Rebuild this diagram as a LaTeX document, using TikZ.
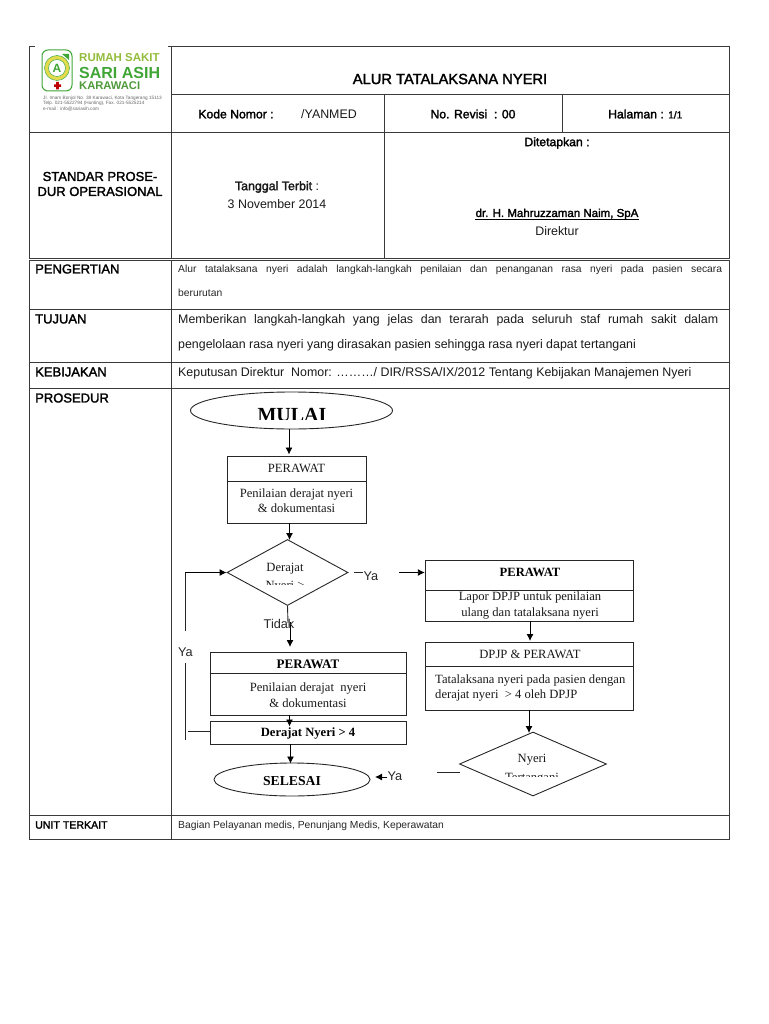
\documentclass[tikz,border=0pt]{standalone}
\usepackage{fontspec}
\setmainfont{Liberation Sans}
\newfontfamily\ser{Liberation Serif}
\newfontfamily\fb[FakeBold=2]{Liberation Sans}
\usetikzlibrary{shapes.geometric,arrows.meta}
\definecolor{lga}{HTML}{93BC3C}
\definecolor{lgb}{HTML}{3FA535}
\definecolor{lgc}{HTML}{4E9A3A}
\definecolor{lgy}{HTML}{E4DC4A}
\definecolor{ln}{HTML}{3A3A3A}
\tikzset{
 grid/.style={draw=ln,line width=0.85pt},
 hb/.style={font=\fb\fontsize{12.2}{14}\selectfont,inner sep=0pt,text=black},
 lab/.style={font=\fb\fontsize{13}{15}\selectfont,inner sep=0pt,text=black,anchor=west},
 body/.style={font=\fontsize{12.4}{14}\selectfont,inner sep=0pt,text=black!90},
 small/.style={font=\fontsize{10.3}{12}\selectfont,inner sep=0pt,anchor=west,text=black!85},
 fbox/.style={draw=black!85,line width=0.9pt,inner sep=0pt},
 st/.style={font=\ser\fontsize{12.6}{15.5}\selectfont,inner sep=0pt,align=center,text=black!90},
 stb/.style={font=\ser\bfseries\fontsize{12.6}{15}\selectfont,inner sep=0pt,align=center,text=black},
 conn/.style={draw=black,line width=0.9pt,-{Latex[length=7pt,width=7pt]}},
 plain/.style={draw=black!85,line width=0.9pt},
 ya/.style={font=\fontsize{12.7}{14}\selectfont,inner sep=0pt,text=black!85},
 addr/.style={font=\fontsize{4.7}{5}\selectfont,text=black!60,inner sep=0pt,anchor=west},
}
\begin{document}
\begin{tikzpicture}[x=1pt,y=-1pt]
\useasboundingbox (0,0) rectangle (768,1024);
% table
\draw[grid] (29,46) -- (29,258) (171,46) -- (171,258) (729.5,46) -- (729.5,258);
\draw[grid] (168,46) -- (729.5,46) (171,94.5) -- (729.5,94.5) (29,132.5) -- (729.5,132.5) (29,258) -- (729.5,258);
\draw[grid] (29,46) -- (35,46);
\draw[grid] (384,95) -- (384,258) (562,95) -- (562,133);
\draw[grid] (29,260.5) -- (729.5,260.5) (29,309) -- (729.5,309) (29,362) -- (729.5,362) (29,388) -- (729.5,388) (29,815) -- (729.5,815) (29,839) -- (729.5,839);
\draw[grid] (29,260.5) -- (29,839) (171,260.5) -- (171,839) (729.5,260.5) -- (729.5,839);
% logo
\draw[lgb,line width=1pt,fill=white,rounded corners=6pt] (42,50) rectangle (72,91);
\draw[lgy,line width=3.4pt] (57,68) circle (10.5);
\draw[lgb,line width=0.5pt] (57,68) circle (12.5) (57,68) circle (8.5);
\fill[lgb] (62,54) -- (69,54) -- (69,60) -- cycle;
\node[font=\fontsize{12}{12}\selectfont\bfseries,text=lgb,inner sep=0pt] (logoa) at (57,68.5) {A};
\fill[red!75!black] (54,84.5) rectangle (61,87) (56.2,82) rectangle (58.8,89.5);
\node[font=\fontsize{11.5}{12}\selectfont\bfseries,text=lga,inner sep=0pt,anchor=west] (logo1) at (79,58) {RUMAH SAKIT};
\node[font=\fontsize{16}{17}\selectfont\bfseries,text=lgb,inner sep=0pt,anchor=west] (logo2) at (79,72.5) {SARI ASIH};
\node[font=\fontsize{11.2}{12}\selectfont\bfseries,text=lgc,inner sep=0pt,anchor=west] (logo3) at (79,86) {KARAWACI};
\node[addr] (logo4) at (43,98) {Jl. Imam Bonjol No. 38 Karawaci, Kota Tangerang 15113};
\node[addr] (logo5) at (43,103.5) {Telp. 021-5522794 (Hunting), Fax. 021-5525214};
\node[addr] (logo6) at (43,109) {e-mail : info@sariasih.com};
% header
\node[hb,font=\fb\fontsize{14.7}{17}\selectfont] (title) at (450,79) {ALUR TATALAKSANA NYERI};
\node[hb] (kode) at (236,114) {Kode Nomor :};
\node[body] (yan) at (329,114) {/YANMED};
\node[hb] (rev) at (473,114) {No. Revisi\ \ : 00};
\node[hb,anchor=west] (hal) at (608,114) {Halaman : {\fontsize{10}{12}\selectfont 1/1}};
\node[lab,anchor=center,align=center] (sop) at (100,184) {STANDAR PROSE-\\DUR OPERASIONAL};
\node[body] (tgl) at (277,187) {{\fb Tanggal Terbit} :};
\node[body] (tgl2) at (277,204) {3 November 2014};
\node[hb] (dit) at (557,143) {Ditetapkan :};
\node[hb,font=\fb\fontsize{11.5}{14}\selectfont] (dr) at (557,214) {dr. H. Mahruzzaman Naim, SpA};
\draw[draw=black,line width=0.7pt] (dr.south west) -- (dr.south east);
\node[body] (dir) at (557,231) {Direktur};
% rows
\node[lab] (r1) at (35,269) {PENGERTIAN};
\node[lab] (r2) at (35,319) {TUJUAN};
\node[lab] (r3) at (35,372) {KEBIJAKAN};
\node[lab] (r4) at (35,398) {PROSEDUR};
\node[lab,font=\fb\fontsize{10.6}{12}\selectfont] (r5) at (35,825) {UNIT TERKAIT};
\node[small] (t1a) at (178,270) {\hbox to 544pt{Alur tatalaksana nyeri adalah langkah-langkah penilaian dan penanganan rasa nyeri pada pasien secara}};
\node[small] (t1b) at (178,293) {berurutan};
\node[body,anchor=west] (t2a) at (178,320) {\hbox to 540pt{Memberikan langkah-langkah yang jelas dan terarah pada seluruh staf rumah sakit dalam}};
\node[body,anchor=west] (t2b) at (178,345) {pengelolaan rasa nyeri yang dirasakan pasien sehingga rasa nyeri dapat tertangani};
\node[body,anchor=west] (t3) at (178,373) {Keputusan Direktur\ \ Nomor: ………/ DIR/RSSA/IX/2012 Tentang Kebijakan Manajemen Nyeri};
\node[small] (t5) at (178,826) {Bagian Pelayanan medis, Penunjang Medis, Keperawatan};
% flow left
\node[ellipse,fbox,minimum width=202pt,minimum height=37pt] (mulai) at (291.5,410.5) {};
\begin{scope}
\clip (200,398) rectangle (380,419.5);
\node[stb,font=\ser\bfseries\fontsize{20}{22}\selectfont,anchor=base] (mulait) at (292,421) {MULAI};
\end{scope}
\node[fbox,minimum width=139pt,minimum height=67pt] (p1) at (296.5,489.5) {};
\draw[plain] (p1.west |- 0,481) -- (p1.east |- 0,481);
\node[st] (p1a) at (296.5,468) {PERAWAT};
\node[st] (p1b) at (296.5,500.5) {Penilaian derajat nyeri\\\& dokumentasi};
\node[diamond,fbox,minimum width=121pt,minimum height=66pt,aspect=1.83] (d1) at (287.5,572.5) {};
\node[st] (d1a) at (285,569) {Derajat};
\begin{scope}
\clip (250,579) rectangle (320,584.5);
\node[st,anchor=base] (d1b) at (285,589.5) {Nyeri >};
\end{scope}
\node[fbox,minimum width=196pt,minimum height=63pt] (p2) at (308,683.5) {};
\draw[plain] (p2.west |- 0,673.5) -- (p2.east |- 0,673.5);
\node[stb,font=\ser\bfseries\fontsize{13}{15}\selectfont] (p2a) at (308,664) {PERAWAT};
\node[st] (p2b) at (308,695) {Penilaian derajat\ \ nyeri\\\& dokumentasi};
\node[fbox,minimum width=196pt,minimum height=23pt] (d2) at (308,732.5) {};
\node[stb] (d2t) at (308,733.5) {Derajat Nyeri > 4};
\node[ellipse,fbox,minimum width=156pt,minimum height=33pt] (sel) at (292,779.5) {};
\node[stb,font=\ser\bfseries\fontsize{13.7}{15}\selectfont] (selt) at (292,781) {SELESAI};
% right
\node[fbox,minimum width=208.5pt,minimum height=61pt] (p3) at (529.5,590.5) {};
\draw[plain] (p3.west |- 0,590) -- (p3.east |- 0,590);
\node[stb] (p3a) at (530,572) {PERAWAT};
\node[st] (p3b) at (530,605.5) {Lapor DPJP untuk penilaian\\ulang dan tatalaksana nyeri};
\node[fbox,minimum width=208.5pt,minimum height=68pt] (p4) at (529.5,676) {};
\draw[plain] (p4.west |- 0,666) -- (p4.east |- 0,666);
\node[st] (p4a) at (530,654) {DPJP \& PERAWAT};
\node[st,align=left,anchor=west] (p4b) at (435,688) {Tatalaksana nyeri pada pasien dengan\\derajat nyeri\ \ > 4 oleh DPJP};
\node[diamond,fbox,minimum width=147pt,minimum height=64pt,aspect=2.26] (d3) at (533,764) {};
\node[st] (d3a) at (532,760) {Nyeri};
\begin{scope}
\clip (490,770) rectangle (570,776);
\node[st,anchor=base] (d3b) at (532,781) {Tertangani};
\end{scope}
% labels
\node[ya] (yar) at (371,576) {Ya};
\coordinate (y0) at (354,572.5);
\coordinate (y1) at (363,572.5);
\coordinate (y2) at (399,572.5);
\coordinate (t1) at (288,623);
\coordinate (t2) at (290,622);
\draw[plain] (y0) -- (y1);
\draw[conn] (y2) -- (p3.west |- y2);
\draw[plain] (d1.south) -- (t1);
\draw[conn] (t2) -- (290,647);
\node[ya] (tidak) at (279,624) {Tidak};
\node[ya] (yal) at (185.5,652) {Ya};
\node[ya] (yab) at (395,776) {Ya};
% connectors
\draw[conn] (289,429) -- (289,454.5);
\draw[conn] (289.5,523) -- (289.5,540);
\coordinate (l1) at (185,572.5);
\coordinate (l0) at (185,631);
\draw[plain] (l0) -- (l1);
\draw[conn] (l1) -- (d1.west);
\coordinate (l2) at (185,663);
\coordinate (l3) at (185,740);
\draw[plain] (l2) -- (l3);
\coordinate (l4) at (188,731);
\draw[plain] (l4) -- (d2.west |- l4);
\draw[conn] (289.5,715) -- (289.5,726.5);
\draw[conn] (290.5,744) -- (290.5,763.5);
\draw[conn] (530,621) -- (530,641);
\draw[conn] (529,710) -- (529,733);
\coordinate (b1) at (437,772);
\draw[plain] (b1) -- (459.5,772);
\coordinate (a1) at (387,777);
\coordinate (a2) at (375,777);
\draw[conn] (a1) -- (a2);
\end{tikzpicture}
\end{document}
